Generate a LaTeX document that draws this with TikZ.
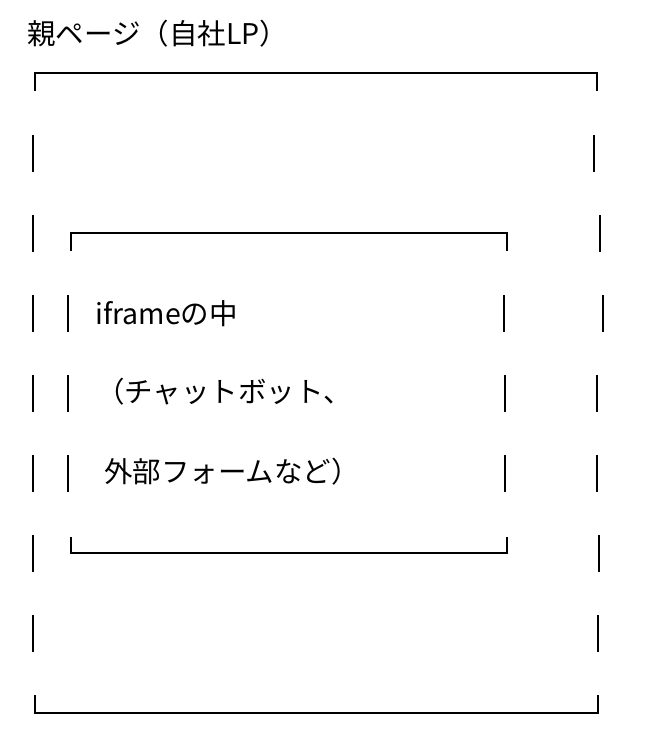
\documentclass[tikz,border=0pt]{standalone}
\usepackage{fontspec}
\setmainfont{Noto Sans CJK JP}
\usetikzlibrary{positioning}

\begin{document}
\begin{tikzpicture}[x=1pt, y=-1pt, line width=2.4pt,
        label/.style={inner sep=0pt, anchor=base west, font=\fontsize{28.5}{28.5}\selectfont}]
        \useasboundingbox (0,0) rectangle (666,750);

        \node[label] (title) at (26,44) {親ページ（自社LP）};

        % outer frame
        \draw (35,91) -- (35,73) -- (597,73) -- (597,91);
        \draw (35,695) -- (35,713) -- (598,713) -- (598,695);
        \foreach \y in {135,215,295,375,455,535,615}
            \draw (33,\y) -- ++(0,37);
        \foreach \x/\y in {594/135,600/215,603/295,597/375,597/455,599/535,598/615}
            \draw (\x,\y) -- ++(0,37);

        % inner frame
        \draw (71,251) -- (71,233) -- (507,233) -- (507,251);
        \draw (71,537) -- (71,553) -- (507,553) -- (507,537);
        \foreach \y in {295,375,455}
            \draw (68,\y) -- ++(0,37);
        \foreach \x/\y in {504/295,505/375,505/455}
            \draw (\x,\y) -- ++(0,37);

        \node[label] (iframe) at (94,324) {iframeの中};
        \node[label] (chatbot) at (95,402) {（チャットボット、};
        \node[label] (form) at (103,482) {外部フォームなど）};
    \end{tikzpicture}
\end{document}
